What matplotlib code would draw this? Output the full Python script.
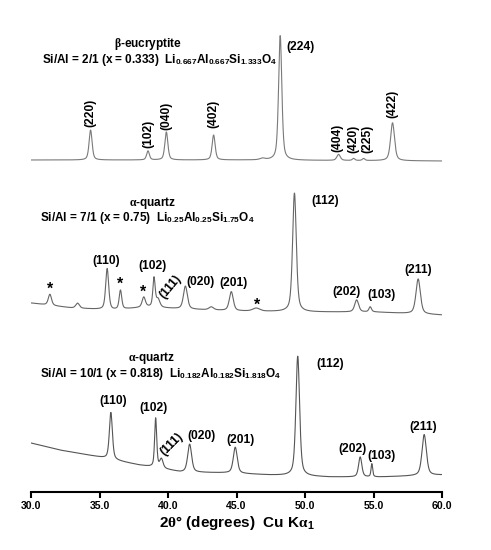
import numpy as np
import matplotlib
matplotlib.use("Agg")
import matplotlib.pyplot as plt

plt.rcParams["font.family"] = ["Liberation Sans", "DejaVu Sans"]
plt.rcParams["font.weight"] = "bold"
plt.rcParams["mathtext.fontset"] = "custom"
plt.rcParams["mathtext.rm"] = "Liberation Serif"
plt.rcParams["mathtext.it"] = "Liberation Serif:italic"
plt.rcParams["mathtext.bf"] = "Liberation Sans:bold"
plt.rcParams["mathtext.sf"] = "Liberation Sans:bold"

# ---- data (2theta in degrees, intensity in a.u.) ----
two_theta_grid = np.arange(30.0, 60.0001, 0.02)

# beta-eucryptite, Si/Al = 2/1
eucr_offset = 332
eucr_base_tt = [30.0, 45.0, 60.0]
eucr_base_val = [0.0, 0.0, -1.0]
eucr_pos = [34.35, 38.54, 39.88, 43.33, 46.90, 48.19, 52.45, 53.55, 54.28, 56.39]
eucr_height = [30, 9, 28, 25, 1.5, 125, 6, 2, 2, 38]
eucr_fwhm = [0.26, 0.24, 0.26, 0.26, 0.45, 0.28, 0.30, 0.22, 0.22, 0.34]
eucr_hkl = ["(220)", "(102)", "(040)", "(402)", None, "(224)", "(404)", "(420)", "(225)", "(422)"]

# alpha-quartz, Si/Al = 7/1
q7_offset = 180
q7_base_tt = [30.0, 33.0, 36.0, 38.5, 41.0, 45.0, 50.0, 55.0, 60.0]
q7_base_val = [9, 4, 2, 5, 3, 1, 0, 0, -3]
q7_pos = [31.38, 33.40, 35.56, 36.53, 38.23, 38.98, 39.27, 41.27, 43.16, 44.62,
          46.44, 49.23, 53.77, 54.76, 58.26]
q7_height = [11, 5, 41, 19, 10, 29, 8, 23, 3, 19, 3, 119, 12, 5, 35]
q7_fwhm = [0.28, 0.32, 0.26, 0.22, 0.28, 0.20, 0.32, 0.34, 0.40, 0.34,
           0.60, 0.32, 0.34, 0.22, 0.38]
q7_hkl = ["*", None, "(110)", "*", "*", "(102)", "(111)", "(020)", None, "(201)",
          "*", "(112)", "(202)", "(103)", "(211)"]

# alpha-quartz, Si/Al = 10/1
q10_offset = 15
q10_base_tt = [30.0, 32.1, 35.0, 37.9, 39.4, 40.9, 44.5, 47.4, 51.8, 55.4, 60.0]
q10_base_val = [34, 27, 20, 12, 9, 5, 4, 2, 0, 0, 2]
q10_pos = [35.83, 39.10, 39.52, 41.58, 44.91, 49.47, 54.03, 54.88, 58.70]
q10_height = [47, 49, 9, 28, 26, 120, 20, 13, 41]
q10_fwhm = [0.26, 0.18, 0.28, 0.34, 0.34, 0.32, 0.28, 0.14, 0.38]
q10_hkl = ["(110)", "(102)", "(111)", "(020)", "(201)", "(112)", "(202)", "(103)", "(211)"]

x_ticks = [30.0, 35.0, 40.0, 45.0, 50.0, 55.0, 60.0]


def pseudo_voigt(x, centre, height, fwhm, eta=0.5):
    d = (x - centre) / fwhm
    gauss = np.exp(-4 * np.log(2) * d**2)
    lorentz = 1.0 / (1.0 + 4 * d**2)
    return height * (eta * lorentz + (1 - eta) * gauss)


def pattern(x, offset, base_tt, base_val, pos, height, fwhm):
    y = offset + np.interp(x, base_tt, base_val)
    for c, h, w in zip(pos, height, fwhm):
        y = y + pseudo_voigt(x, c, h, w)
    return y


W, H = 491, 550
fig = plt.figure(figsize=(W / 100, H / 100), dpi=100)
ax = fig.add_axes([31 / W, 58 / H, 411 / W, 482 / H])
ax.set_xlim(30, 60)
ax.set_ylim(0, 482)

patterns = [
    (eucr_offset, eucr_base_tt, eucr_base_val, eucr_pos, eucr_height, eucr_fwhm),
    (q7_offset, q7_base_tt, q7_base_val, q7_pos, q7_height, q7_fwhm),
    (q10_offset, q10_base_tt, q10_base_val, q10_pos, q10_height, q10_fwhm),
]
line_colors = ["#7a7a7a", "#666666", "#555555"]
for p, col in zip(patterns, line_colors):
    ax.plot(two_theta_grid, pattern(two_theta_grid, *p), color=col, lw=0.8)


def peak_top(k, pos):
    return pattern(np.array([pos]), *patterns[k])[0]


LABEL_FS = 8.7

# label layout: offsets in pixels from the top of each peak
eucr_lab = {  # dx, dy
    "(220)": (0, 3), "(102)": (0, 3), "(040)": (0, 2), "(402)": (0, 7),
    "(404)": (-1, 2), "(420)": (0, 5), "(225)": (4, 5), "(422)": (0, 5),
}
for c, hkl in zip(eucr_pos, eucr_hkl):
    if hkl is None:
        continue
    top = peak_top(0, c)
    if hkl == "(224)":
        ax.annotate(hkl, (c, top), xytext=(6, -12), textcoords="offset pixels",
                    ha="left", va="center", fontsize=LABEL_FS, fontweight="bold")
    else:
        dx, dy = eucr_lab[hkl]
        ax.annotate(hkl, (c, top), xytext=(dx, dy), textcoords="offset pixels",
                    ha="center", va="bottom", rotation=90, fontsize=LABEL_FS,
                    fontweight="bold")

q7_lab = [(0, 5), None, (-1, 8), (0, 6), (-1, 5), (-2, 11), (12, 11), (15, 4), None,
          (2, 9), (1, 3), (17, -8), (-10, 8), (11, 12), (0, 9)]
q10_lab = [(2, 11), (-2, 10), (10, 14), (12, 8), (5, 7), (19, -8), (-8, 8), (10, 8), (-1, 8)]

for k, (pos, hkl, lab, rot) in enumerate(
        [(q7_pos, q7_hkl, q7_lab, 50), (q10_pos, q10_hkl, q10_lab, 45)], start=1):
    for c, name, off in zip(pos, hkl, lab):
        if name is None:
            continue
        top = peak_top(k, c)
        kw = dict(ha="center", va="center", fontsize=LABEL_FS, fontweight="bold")
        if name == "(111)":
            kw.update(rotation=rot, rotation_mode="anchor")
        if name == "*":
            kw.update(fontsize=11.5)
        if name == "(112)":
            kw.update(ha="left")
        ax.annotate(name, (c, top), xytext=off, textcoords="offset pixels", **kw)

# sample titles (pixel positions in the figure)
titles = [
    (r"$\mathrm{\beta}$-eucryptite", 148, 44,
     r"Si/Al = 2/1 (x = 0.333)  Li$_{\mathsf{0.667}}$Al$_{\mathsf{0.667}}$Si$_{\mathsf{1.333}}$O$_{\mathsf{4}}$", 42, 60),
    (r"$\mathrm{\alpha}$-quartz", 153, 203,
     r"Si/Al = 7/1 (x = 0.75)  Li$_{\mathsf{0.25}}$Al$_{\mathsf{0.25}}$Si$_{\mathsf{1.75}}$O$_{\mathsf{4}}$", 40, 218),
    (r"$\mathrm{\alpha}$-quartz", 152, 358,
     r"Si/Al = 10/1 (x = 0.818)  Li$_{\mathsf{0.182}}$Al$_{\mathsf{0.182}}$Si$_{\mathsf{1.818}}$O$_{\mathsf{4}}$", 40, 374),
]
for t1, x1, y1, t2, x2, y2 in titles:
    fig.text(x1 / W, 1 - y1 / H, t1, ha="center", va="center", fontsize=8.5,
             fontweight="bold")
    fig.text(x2 / W, 1 - y2 / H, t2, ha="left", va="center", fontsize=8.5,
             fontweight="bold")

# axis styling
for side in ["left", "right", "top"]:
    ax.spines[side].set_visible(False)
ax.spines["bottom"].set_linewidth(1.5)
ax.set_yticks([])
ax.set_xticks(x_ticks)
ax.set_xticklabels([f"{t:.1f}" for t in x_ticks], fontsize=7.6, fontweight="bold")
ax.tick_params(axis="x", direction="out", length=4.5, width=1.5, pad=2)
ax.set_xlabel(r"2$\mathrm{\theta}$° (degrees)  Cu K$\mathrm{\alpha}_{\mathsf{1}}$",
              fontsize=11, fontweight="bold", labelpad=2)

fig.savefig("out.png", dpi=100)
